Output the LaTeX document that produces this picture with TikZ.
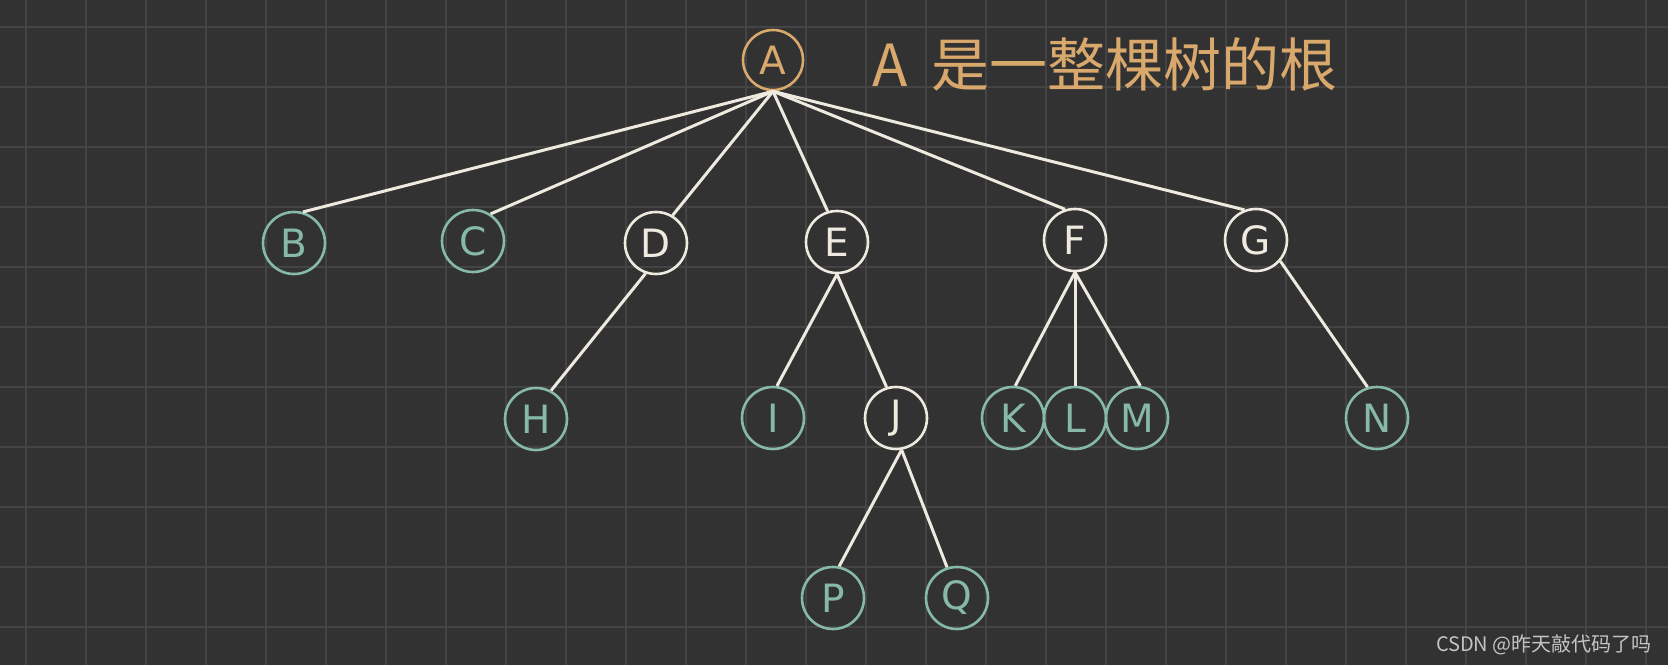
\documentclass[tikz,border=0pt]{standalone}
\usepackage{fontspec}
\setmainfont{DejaVu Sans}
\newfontfamily\cjk{Noto Sans CJK SC}
\definecolor{bgc}{HTML}{323232}
\definecolor{gridc}{HTML}{444444}
\definecolor{cream}{HTML}{EEEAE0}
\definecolor{tealc}{HTML}{86B9A6}
\definecolor{orng}{HTML}{D9A86C}
\definecolor{wmark}{HTML}{C4C4C4}
\tikzset{
  gridline/.style={draw=gridc, line width=2pt},
  nd/.style={circle, minimum size=62pt, inner sep=0pt, line width=2.6pt, font=\fontsize{39}{39}\selectfont},
  leaf/.style={nd, draw=tealc, text=tealc},
  innernd/.style={nd, draw=cream, text=cream},
  rootnd/.style={nd, draw=orng, text=orng, minimum size=60pt},
  edge/.style={draw=cream, line width=3pt},
}
\begin{document}
\begin{tikzpicture}[x=1pt,y=-1pt]
\fill[bgc] (0,0) rectangle (1668,665);
\useasboundingbox (0,0) rectangle (1668,665);
\foreach \i in {0,...,27} \draw[gridline] ({26+60*\i},0) -- ({26+60*\i},665);
\foreach \j in {0,...,10} \draw[gridline] (0,{26.5+60*\j}) -- (1668,{26.5+60*\j});

\node[rootnd] (A) at (773,60) {A};
\node[leaf] (B) at (294,243) {B};
\node[leaf] (C) at (473,241) {C};
\node[innernd] (D) at (656,243) {D};
\node[innernd] (E) at (837,242) {E};
\node[innernd] (F) at (1075,240) {F};
\node[innernd] (G) at (1256,240) {G};
\node[leaf] (H) at (536,419) {H};
\node[leaf] (I) at (773,418) {I};
\node[innernd] (J) at (896,418) {J};
\node[leaf] (K) at (1013,418) {K};
\node[leaf] (L) at (1075,418) {L};
\node[leaf] (M) at (1137,418) {M};
\node[leaf] (N) at (1377,418) {N};
\node[leaf] (P) at (833,598) {P};
\node[leaf] (Q) at (957,598) {Q};

\draw[edge] (A.south) -- (B.74);
\draw[edge] (A.south) -- (C.57);
\draw[edge] (A.south) -- (D.59);
\draw[edge] (A.south) -- (E.107);
\draw[edge] (A.south) -- (F.108);
\draw[edge] (A.south) -- (G.111);
\draw[edge] (D.251) -- (H.62);
\draw[edge] (E.south) -- (I.83);
\draw[edge] (E.south) -- (J.107);
\draw[edge] (F.south) -- (K.86);
\draw[edge] (F.south) -- (L.north);
\draw[edge] (F.south) -- (M.84);
\draw[edge] (G.-41) -- (N.107);
\draw[edge] (J.-80) -- (P.79);
\draw[edge] (J.-80) -- (Q.108);

\node[anchor=west, text=orng, font=\cjk\fontsize{58}{58}\selectfont, inner sep=0pt] (title) at (872,64) {A\hspace{24pt}是一整棵树的根};

\node[anchor=east, text=wmark, font=\cjk\fontsize{20}{20}\selectfont, inner sep=0pt] (wm) at (1652,645) {CSDN @昨天敲代码了吗};
\end{tikzpicture}
\end{document}
